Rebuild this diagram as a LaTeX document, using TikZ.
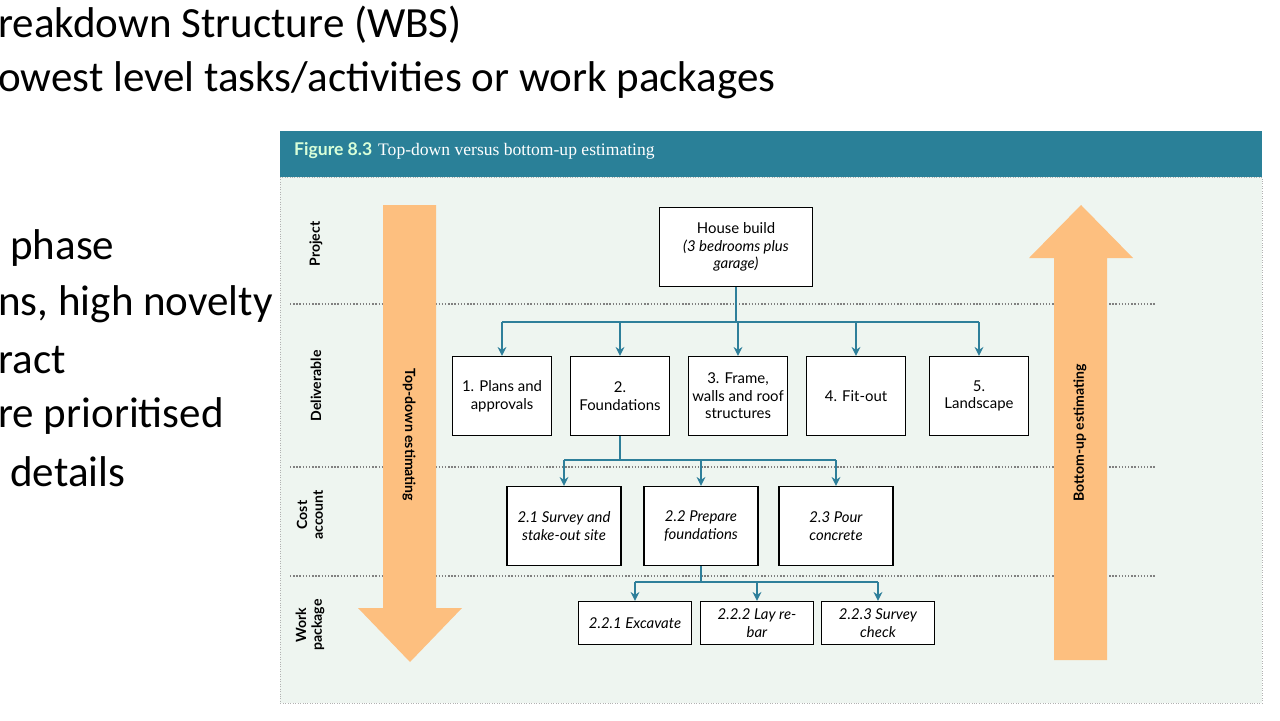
\documentclass[tikz,border=0pt]{standalone}
\usepackage{fontspec}
\setmainfont{Carlito}
\newfontfamily\figfont{Lato}
\newfontfamily\capfont{Liberation Serif}
\usetikzlibrary{positioning,arrows.meta,calc}
\definecolor{teal}{HTML}{2A8098}
\definecolor{panel}{HTML}{EEF5F0}
\definecolor{peach}{HTML}{FDBF7F}
\definecolor{link}{HTML}{2E7F9A}

\begin{document}
\begin{tikzpicture}[
  x=0.02cm, y=-0.02cm,
  slide/.style={anchor=west, inner sep=0pt, font=\fontsize{24.5}{28}\selectfont},
  box/.style={rectangle, draw, thick, fill=white, align=center, font=\figfont\fontsize{8.5}{10}\selectfont, inner sep=1pt},
  itbox/.style={box, font=\figfont\itshape\fontsize{8.5}{10}\selectfont},
  level/.style={rotate=90, align=center, font=\figfont\bfseries\fontsize{8}{9}\selectfont},
  conn/.style={link, thick},
  arrow/.style={conn, -{Stealth[length=5pt,width=5pt]}},
  sep/.style={densely dotted, gray, thick}
]
\useasboundingbox (0,0) rectangle (1280,720);
\fill[white] (0,0) rectangle (1280,720);

% Slide text (cut off at the left)
\node[slide] (t1) at (-2,25) {reakdown Structure (WBS)};
\node[slide] (t2) at (-2,80) {owest level tasks/activities or work packages};
\node[slide] (t3) at (10,248) {phase};
\node[slide] (t4) at (-2,304) {ns, high novelty};
\node[slide] (t5) at (-2,360) {ract};
\node[slide] (t6) at (-2,416) {re prioritised};
\node[slide] (t7) at (10,472) {details};

% Figure panel
\fill[panel] (280,131) rectangle (1262,703);
\draw[densely dotted, gray!60] (280,177) rectangle (1262,703);
\fill[teal] (280,131) rectangle (1262,177);
\node[anchor=west, text=green!15!white, font=\figfont\bfseries\fontsize{10}{12}\selectfont] (fig) at (288,151) {Figure 8.3};
\node[anchor=west, text=white, font=\capfont\fontsize{10}{12}\selectfont] (cap) at (372,151) {Top-down versus bottom-up estimating};

% Level separators
\foreach \yy in {304,467,576}
  \draw[sep] (290,\yy) -- (1155,\yy);

% Level labels
\node[level] (lproj) at (316,244) {Project};
\node[level] (ldel) at (316,386) {Deliverable};
\node[level] (lcost) at (310,515) {Cost\\account};
\node[level] (lwork) at (310,625) {Work\\package};

% Big arrows
\fill[peach] (383,205) -- (436,205) -- (436,608) -- (462,608) -- (410,662) -- (358,608) -- (383,608) -- cycle;
\fill[peach] (1054,660) -- (1107,660) -- (1107,258) -- (1133,258) -- (1081,205) -- (1029,258) -- (1054,258) -- cycle;
\node[rotate=-90, font=\figfont\bfseries\fontsize{8}{9}\selectfont] (topdown) at (409,435) {Top-down estimating};
\node[rotate=90, font=\figfont\bfseries\fontsize{8}{9}\selectfont] (bottomup) at (1080,433) {Bottom-up estimating};

% Project
\node[box, minimum width=153*0.02cm, minimum height=79*0.02cm] (house) at (736,247) {House build\\\textit{(3 bedrooms plus}\\\textit{garage)}};

% Deliverables
\node[box, minimum width=99*0.02cm, minimum height=79*0.02cm] (d1) at (502,396) {1. Plans and\\approvals};
\node[box, minimum width=99*0.02cm, minimum height=79*0.02cm] (d2) at (620,396) {2.\\Foundations};
\node[box, minimum width=99*0.02cm, minimum height=79*0.02cm] (d3) at (738,396) {3. Frame,\\walls and roof\\structures};
\node[box, minimum width=99*0.02cm, minimum height=79*0.02cm] (d4) at (856,396) {4. Fit-out};
\node[box, minimum width=99*0.02cm, minimum height=79*0.02cm] (d5) at (979,396) {5.\\Landscape};

% Cost accounts
\node[itbox, minimum width=114*0.02cm, minimum height=79*0.02cm] (c1) at (564,526) {2.1 Survey and\\stake-out site};
\node[itbox, minimum width=114*0.02cm, minimum height=79*0.02cm] (c2) at (701,526) {2.2 Prepare\\foundations};
\node[itbox, minimum width=114*0.02cm, minimum height=79*0.02cm] (c3) at (836,526) {2.3 Pour\\concrete};

% Work packages
\node[itbox, minimum width=113*0.02cm, minimum height=43*0.02cm] (w1) at (635,623) {2.2.1 Excavate};
\node[itbox, minimum width=113*0.02cm, minimum height=43*0.02cm] (w2) at (757,623) {2.2.2 Lay re-\\bar};
\node[itbox, minimum width=113*0.02cm, minimum height=43*0.02cm] (w3) at (878,623) {2.2.3 Survey\\check};

% Connectors
\coordinate (hj) at (736,322);
\draw[conn] (house.south) -- (hj);
\draw[conn] (hj -| d1) -- (hj -| d5);
\foreach \n in {d1,d2,d3,d4,d5}
  \draw[arrow] (hj -| \n) -- (\n.north);

\coordinate (dj) at (620,460);
\draw[conn] (d2.south) -- (dj);
\draw[conn] (dj -| c1) -- (dj -| c3);
\foreach \n in {c1,c2,c3}
  \draw[arrow] (dj -| \n) -- (\n.north);

\coordinate (cj) at (701,582);
\draw[conn] (c2.south) -- (cj);
\draw[conn] (cj -| w1) -- (cj -| w3);
\foreach \n in {w1,w2,w3}
  \draw[arrow] (cj -| \n) -- (\n.north);

\end{tikzpicture}
\end{document}
